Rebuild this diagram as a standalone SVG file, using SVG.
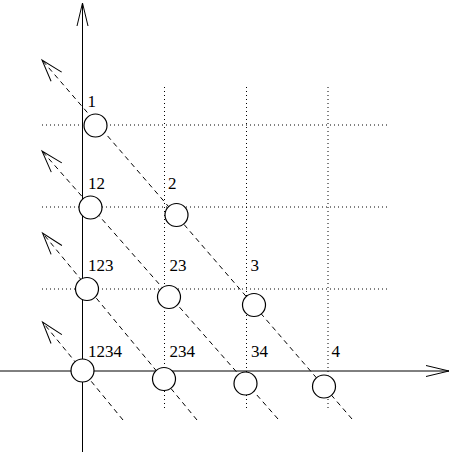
<svg xmlns="http://www.w3.org/2000/svg" width="453" height="453" viewBox="0 0 453 453">
<style>
.grid{stroke:#000;stroke-width:1;stroke-dasharray:1,3;fill:none}
.axis{stroke:#000;stroke-width:1;fill:none}
.diag{stroke:#000;stroke-width:1;stroke-dasharray:5,4;fill:none}
.node circle{fill:#fff;stroke:#000;stroke-width:1.2}
.node text{font-family:"Liberation Serif","Times New Roman",serif;font-size:17px;fill:#000}
</style>
<defs>
<marker id="axhead" markerUnits="userSpaceOnUse" markerWidth="30" markerHeight="20" refX="0" refY="0" viewBox="-25 -10 30 20" orient="auto" overflow="visible">
<path d="M-23,-5.5 L0,0 L-23,5.5" fill="none" stroke="#000" stroke-width="1"/>
</marker>
<marker id="dhead" markerUnits="userSpaceOnUse" markerWidth="30" markerHeight="20" refX="0" refY="0" viewBox="-25 -10 30 20" orient="auto" overflow="visible">
<path d="M-22,-7 L0,0 L-22,7" fill="none" stroke="#000" stroke-width="1"/>
</marker>
</defs>
<rect width="453" height="453" fill="#fff"/>
<g id="grid">
<line class="grid" x1="42" y1="125" x2="390" y2="125"/>
<line class="grid" x1="42" y1="207" x2="390" y2="207"/>
<line class="grid" x1="42" y1="289" x2="390" y2="289"/>
<line class="grid" x1="164.5" y1="87" x2="164.5" y2="410"/>
<line class="grid" x1="246.5" y1="87" x2="246.5" y2="410"/>
<line class="grid" x1="328" y1="87" x2="328" y2="410"/>
</g>
<g id="connectors">
<line class="axis" x1="82.5" y1="452" x2="82.5" y2="3" marker-end="url(#axhead)"/>
<line class="axis" x1="0" y1="371" x2="449" y2="371" marker-end="url(#axhead)"/>
<line class="diag" x1="352" y1="419" x2="42" y2="60" marker-end="url(#dhead)"/>
<line class="diag" x1="278" y1="419" x2="42" y2="151" marker-end="url(#dhead)"/>
<line class="diag" x1="197" y1="420" x2="42.5" y2="233" marker-end="url(#dhead)"/>
<line class="diag" x1="123" y1="420" x2="42.5" y2="322" marker-end="url(#dhead)"/>
</g>
<g id="n1" class="node"><circle cx="95.5" cy="125.5" r="11.5"/><text x="87.5" y="107">1</text></g>
<g id="n12" class="node"><circle cx="90.5" cy="207.5" r="11.5"/><text x="88" y="188.5">12</text></g>
<g id="n2" class="node"><circle cx="176.5" cy="215" r="11.5"/><text x="168" y="188.5">2</text></g>
<g id="n123" class="node"><circle cx="87" cy="289" r="11.5"/><text x="88" y="270.5">123</text></g>
<g id="n23" class="node"><circle cx="169" cy="297" r="11.5"/><text x="169.5" y="270.5">23</text></g>
<g id="n3" class="node"><circle cx="254" cy="305" r="11.5"/><text x="250.5" y="270.5">3</text></g>
<g id="n1234" class="node"><circle cx="82.5" cy="370.5" r="11.5"/><text x="88" y="357">1234</text></g>
<g id="n234" class="node"><circle cx="164" cy="379" r="11.5"/><text x="169.5" y="357">234</text></g>
<g id="n34" class="node"><circle cx="245.5" cy="383.5" r="11.5"/><text x="251" y="357">34</text></g>
<g id="n4" class="node"><circle cx="324" cy="386.5" r="11.5"/><text x="331.5" y="357">4</text></g>
</svg>
